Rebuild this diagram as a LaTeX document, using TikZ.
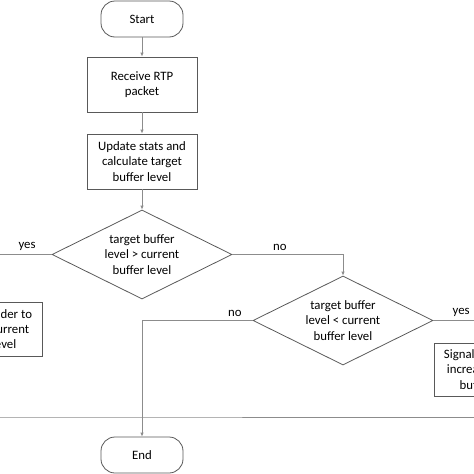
\documentclass[tikz,border=0pt]{standalone}
\usepackage{fontspec}
\setmainfont{Carlito}
\usetikzlibrary{shapes.geometric,arrows.meta}
\definecolor{LineGray}{gray}{0.55}
\definecolor{EdgeGray}{gray}{0.35}
\begin{document}
\begin{tikzpicture}[x=1pt,y=-1pt,
                font=\fontsize{12.8}{15.2}\selectfont,
                terminal/.style={draw=EdgeGray,line width=0.8pt,rounded corners=14pt,minimum width=82pt,minimum height=36pt},
                process/.style={draw=EdgeGray,line width=0.8pt,align=center,minimum width=110pt,minimum height=55pt,inner sep=2pt},
                decision/.style={draw=EdgeGray,line width=0.8pt,shape=diamond,aspect=2,inner sep=0pt,align=center,minimum width=180pt,minimum height=89pt},
                flow/.style={draw=LineGray,line width=0.8pt,-{Latex[length=4pt,width=3.5pt]}},
                plain/.style={draw=LineGray,line width=0.8pt}]
                \useasboundingbox (0,0) rectangle (474,474);
                \clip (0,0) rectangle (474,474);

                \coordinate (MergeLevel) at (0,417);

                \node[terminal] (Start) at (142,19) {Start};
                \node[process] (ReceivePacket) at (142,84.5) {Receive RTP\\packet};
                \node[process] (UpdateStats) at (142,161.5) {Update stats and\\calculate target\\buffer level};
                \node[decision] (CheckHigher) at (142,254.5) {target buffer\\level > current\\buffer level};
                \node[decision] (CheckLower) at (343,320.5) {target buffer\\level < current\\buffer level};
                \node[process,minimum height=54pt] (SignalLeft) at (-13,329) {Signal decoder to\\increase current\\buffer level};
                \node[process,minimum height=53pt] (SignalRight) at (489,369.5) {Signal decoder to\\increase current\\buffer level};
                \node[terminal] (End) at (142,455) {End};

                \draw[flow] (Start) -- (ReceivePacket);
                \draw[flow] (ReceivePacket) -- (UpdateStats);
                \draw[flow] (UpdateStats) -- (CheckHigher);
                \draw[flow] (CheckHigher.west) -- node[above,pos=0.38] {yes} (CheckHigher.west -| SignalLeft.north) -- (SignalLeft.north);
                \draw[flow] (CheckHigher.east) -- node[above,pos=0.43] {no} (CheckHigher.east -| CheckLower.north) -- (CheckLower.north);
                \draw[flow] (CheckLower.east) -- node[above] {yes} (CheckLower.east -| SignalRight.north) -- (SignalRight.north);
                \draw[flow] (CheckLower.west) -- node[above,pos=0.16] {no} (CheckLower.west -| End.north) -- (End.north);
                \draw[plain] (SignalLeft.south) |- (MergeLevel) -| (SignalRight.south);
            \end{tikzpicture}
\end{document}
